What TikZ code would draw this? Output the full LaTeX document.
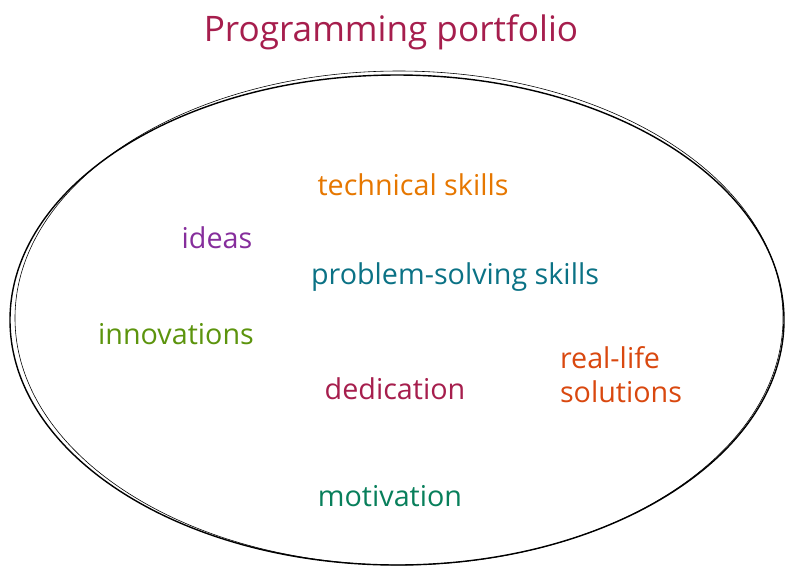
\documentclass[tikz,border=0pt]{standalone}
\usepackage{fontspec}
\setmainfont{Open Sans}
\usetikzlibrary{positioning}

\definecolor{titlered}{HTML}{A61E4D}
\definecolor{techorange}{HTML}{E67700}
\definecolor{solveteal}{HTML}{0B7285}
\definecolor{ideasgrape}{HTML}{862E9C}
\definecolor{innolime}{HTML}{5C940D}
\definecolor{reallifeorange}{HTML}{D9480F}
\definecolor{motivgreen}{HTML}{087F5B}

\begin{document}
\begin{tikzpicture}[
x=0.03cm, y=-0.03cm,
word/.style={inner sep=0pt, font=\fontsize{24.5}{29}\selectfont},
heading/.style={inner sep=0pt, font=\fontsize{30}{34}\selectfont, text=titlered},
outline/.style={draw=black, line width=1.2pt}
]
\useasboundingbox (0,0) rectangle (793,576);
\path [outline] (397,320) ellipse [x radius=387, y radius=245];
\path [draw=black, line width=0.5pt] (399,318) ellipse [x radius=384, y radius=247];

\node [heading] (title) at (391,32) {Programming portfolio};
\node [word, text=techorange] (technical) at (413,185) {technical skills};
\node [word, text=ideasgrape] (ideas) at (217,238) {ideas};
\node [word, text=solveteal] (solving) at (455,277) {problem-solving skills};
\node [word, text=innolime] (innovations) at (176,334) {innovations};
\node [word, text=reallifeorange, align=left] (reallife) at (621,375) {real-life\\solutions};
\node [word, text=titlered] (dedication) at (395,389) {dedication};
\node [word, text=motivgreen] (motivation) at (390,496) {motivation};
\end{tikzpicture}
\end{document}
